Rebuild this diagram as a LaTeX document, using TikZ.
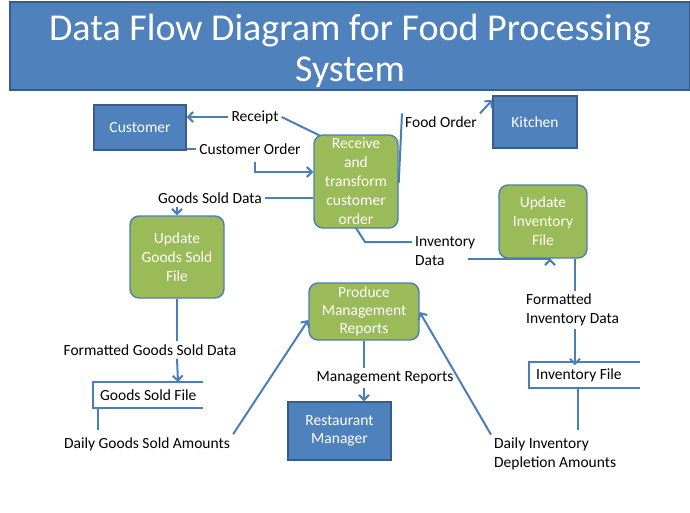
\documentclass[tikz,border=0pt]{standalone}
\usepackage{fontspec}
\setmainfont{Carlito}
\usetikzlibrary{arrows.meta}
\definecolor{bfill}{HTML}{4F81BD}\definecolor{bdraw}{HTML}{385D8A}
\definecolor{gfill}{HTML}{9BBB59}\definecolor{gdraw}{HTML}{4F6F9F}
\definecolor{ln}{HTML}{4A7EBB}
\begin{document}
\begin{tikzpicture}[x=1pt,y=-1pt,
  ent/.style={draw=bdraw,fill=bfill,line width=1.4pt,text=white,font=\fontsize{15.5}{18}\selectfont,align=center},
  proc/.style={draw=ln,fill=gfill,line width=1.4pt,rounded corners=9pt,text=white,font=\fontsize{15.5}{19}\selectfont,align=center,inner sep=1pt},
  lab/.style={font=\fontsize{15.5}{19}\selectfont,inner sep=3pt},
  fl/.style={draw=ln,line width=2pt},
  ar/.style={fl,-{Straight Barb[length=5pt,width=10pt,line width=2pt]}}]
\useasboundingbox (0,0) rectangle (690,513);
\node[ent,minimum width=680,minimum height=88,inner sep=0pt] (title) at (350,46) {};
\node[text=white,font=\fontsize{38}{41}\selectfont,align=center] (ttext) at (350,51) {Data Flow Diagram for Food Processing\\System};
\node[ent,minimum width=92,minimum height=45] (cust) at (140,127.5) {Customer};
\node[ent,minimum width=84,minimum height=52] (kit) at (535,122) {Kitchen};
\node[ent,minimum width=103,minimum height=58] (rm) at (339.5,431) {Restaurant\\Manager};
\node[proc,minimum width=84,minimum height=93] (rec) at (356,181.5) {Receive\\and\\transform\\customer\\order};
\node[proc,minimum width=94,minimum height=82] (ugs) at (177,257) {Update\\Goods Sold\\File};
\node[proc,minimum width=88,minimum height=73] (uinv) at (543,221.5) {Update\\Inventory\\File};
\node[proc,minimum width=110,minimum height=57,font=\fontsize{15.5}{18}\selectfont] (pmr) at (364,311.5) {Produce\\Management\\Reports};
% files
\draw[fl,line width=1.4pt] (203,382) -- (93,382) -- (93,408) -- (203,408);
\node[lab,anchor=west] (gsf) at (97,395) {Goods Sold File};
\draw[fl,line width=1.4pt] (640,362) -- (529,362) -- (529,388) -- (640,388);
\node[lab,anchor=west] (invf) at (533,375) {Inventory File};
% labels
\node[lab] (lrec) at (255,117) {Receipt};
\node[lab] (lco) at (250,149) {Customer Order};
\node[lab] (lgsd) at (210,198) {Goods Sold Data};
\node[lab] (lfo) at (441,122) {Food Order};
\node[lab,align=left,anchor=west] (lid) at (412,251) {Inventory\\Data};
\node[lab,align=left,anchor=west] (lfid) at (523,310) {Formatted\\Inventory Data};
\node[lab] (lfgs) at (150,350) {Formatted Goods Sold Data};
\node[lab] (ldgs) at (147,444) {Daily Goods Sold Amounts};
\node[lab] (lmr) at (385,378) {Management Reports};
\node[lab,align=left,anchor=west] (ldid) at (491,454) {Daily Inventory\\Depletion Amounts};
% flows
\draw[fl] (rec.north west)++(6,1) coordinate (r1) -- (lrec.east);
\draw[ar] (lrec.west) -- (cust.east |- lrec.west);
\draw[fl] (cust.east |- 0,149) -- (lco.west);
\draw[ar] (255,162) -- (255,172) -- (rec.west |- 0,172);
\draw[fl] (rec.west |- lgsd.east) -- (lgsd.east);
\draw[ar] (lgsd.south -| ugs.north) -- (ugs.north);
\draw[fl] (rec.east |- 0,183) -- (lfo.north west);
\draw[ar] (lfo.north east) -- (kit.west |- 0,100);
\draw[fl] (rec.south |- 0,228) -- (365,242) -- (lid.west |- 0,242);
\draw[ar] (468,259) -- (550,259) -- (uinv.south -| 550,0);
\draw[fl] (uinv.south -| 575,0) -- (lfid.north -| 575,0);
\draw[ar] (lfid.south -| 575,0) -- (invf.north -| 575,362);
\draw[fl] (578,388) -- (578,430);
\draw[ar] (ldid.north west) -- (pmr.east |- 0,312);
\draw[fl] (ugs.south) -- (lfgs.north -| ugs.south);
\draw[ar] (lfgs.south -| ugs.south) -- (178,382);
\draw[fl] (98,408) -- (98,430);
\draw[ar] (ldgs.north east) -- (pmr.west |- 0,320);
\draw[fl] (pmr.south) -- (lmr.north -| pmr.south);
\draw[ar] (lmr.south -| pmr.south) -- (rm.north -| pmr.south);
\end{tikzpicture}
\end{document}
